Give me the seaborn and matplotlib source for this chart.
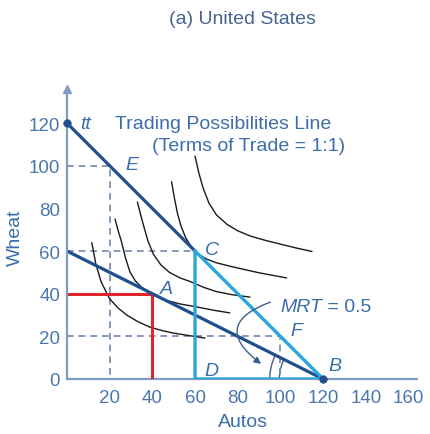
import matplotlib
matplotlib.use("Agg")
import matplotlib.pyplot as plt
from matplotlib.patches import Arc
import seaborn as sns
import pandas as pd

# ---------------- data ----------------
x_ticks = [20, 40, 60, 80, 100, 120, 140, 160]
y_ticks = [0, 20, 40, 60, 80, 100, 120]

# trading possibilities line (tt) from (0,120) to C
tt_x = [0, 60]
tt_y = [120, 60]
# production possibilities frontier (MRT = 0.5)
ppf_x = [0, 120]
ppf_y = [60, 0]
# trade triangle C-D-B
tri_x = [60, 60, 120, 60]
tri_y = [60, 0, 0, 60]
# autarky point A guides
red_x = [0, 40, 40]
red_y = [40, 40, 0]
# dashed guides
e_guide_x = [0, 20, 20]
e_guide_y = [100, 100, 0]
c_guide_x = [0, 60]
c_guide_y = [60, 60]
f_guide_x = [0, 100, 100]
f_guide_y = [20, 20, 0]
# endpoint dots
dot_x = [0, 120]
dot_y = [120, 0]

# indifference curves
ic1_x = [11.6, 13.5, 16.0, 20.0, 24.0, 28.0, 33.0, 38.9, 45.0, 50.0, 57.6, 64.6]
ic1_y = [64.0, 54.0, 45.5, 37.6, 33.2, 30.0, 27.0, 24.3, 22.6, 21.5, 20.3, 19.2]
ic2_x = [22.5, 24.0, 25.5, 27.5, 29.5, 32.0, 35.0, 40.0, 46.0, 53.0, 62.3, 69.0, 76.3]
ic2_y = [75.0, 69.5, 64.5, 56.5, 50.2, 46.0, 43.0, 39.6, 37.0, 35.2, 33.5, 32.2, 31.0]
ic3_x = [33.0, 34.5, 36.0, 38.0, 40.5, 44.0, 48.0, 53.0, 58.0, 64.0, 70.0, 77.0, 85.7]
ic3_y = [83.0, 77.0, 71.5, 64.5, 58.5, 53.5, 50.0, 47.4, 45.6, 43.0, 41.0, 39.6, 38.4]
ic4_x = [49.0, 50.3, 51.8, 53.5, 55.5, 58.0, 61.0, 65.0, 70.0, 78.0, 90.0, 102.9]
ic4_y = [92.5, 85.0, 77.5, 71.5, 66.5, 62.3, 59.0, 56.4, 54.5, 52.5, 49.8, 47.4]
ic5_x = [60.0, 61.8, 63.8, 66.5, 70.0, 75.0, 80.0, 86.0, 93.0, 101.0, 108.0, 114.8]
ic5_y = [104.5, 96.5, 89.5, 82.5, 77.0, 72.5, 69.5, 67.0, 65.0, 63.0, 61.3, 59.8]

# ---------------- style ----------------
sns.set_theme(style="white")
plt.rcParams["font.family"] = ["Liberation Sans", "DejaVu Sans"]

DARK = "#1f4f8f"
LIGHT = "#2aa6de"
RED = "#e0262c"
DASH = "#6f87aa"
AXIS = "#7f9cc4"
TXT = "#3c6dab"
TICKTXT = "#4a77ad"

fig = plt.figure(figsize=(4.31, 4.35), dpi=100)
ax = fig.add_axes([67 / 431, (435 - 380) / 435, 350 / 431, 290 / 435])
ax.set_xlim(0, 164)
ax.set_ylim(0, 136)

def line(x, y, **kw):
    sns.lineplot(x=x, y=y, sort=False, estimator=None, ax=ax, legend=False, **kw)

# dashed guides
for gx, gy in [(e_guide_x, e_guide_y), (c_guide_x, c_guide_y), (f_guide_x, f_guide_y)]:
    line(gx, gy, color=DASH, lw=1.2, linestyle=(0, (4, 3)))

# indifference curves
for cx, cy in [(ic1_x, ic1_y), (ic2_x, ic2_y), (ic3_x, ic3_y), (ic4_x, ic4_y), (ic5_x, ic5_y)]:
    line(cx, cy, color="#1a1a1a", lw=1.0)

# red autarky guides
line(red_x, red_y, color=RED, lw=2.2)
# ppf and trading line
line(ppf_x, ppf_y, color=DARK, lw=2.3)
line(tt_x, tt_y, color=DARK, lw=2.3)
# trade triangle
line(tri_x, tri_y, color=LIGHT, lw=2.4)

# angle arcs at B
for r in (25.0, 20.5):
    ax.add_patch(Arc((120, 0), 2 * r, 2 * r, theta1=153.4, theta2=180,
                     color="#3d5f8f", lw=1.0))

sns.scatterplot(x=dot_x, y=dot_y, color=DARK, s=30, ax=ax, zorder=6,
                edgecolor=DARK, clip_on=False, legend=False)

# axes styling
for s in ("top", "right"):
    ax.spines[s].set_visible(False)
for s in ("left", "bottom"):
    ax.spines[s].set_color(AXIS)
    ax.spines[s].set_linewidth(1.6)
ax.spines["bottom"].set_zorder(1)
ax.plot([0], [136], marker="^", color=AXIS, markersize=6, clip_on=False)

ax.set_xticks(x_ticks)
ax.set_yticks(y_ticks)
ax.set_xticklabels([str(v) for v in x_ticks])
ax.set_yticklabels([str(v) for v in y_ticks])
ax.tick_params(axis="both", direction="in", length=5, width=1.2, color=AXIS,
               labelcolor=TICKTXT, labelsize=13.5)
ax.tick_params(axis="x", pad=7)
ax.tick_params(axis="y", pad=5)
ax.set_xlabel("")
ax.set_ylabel("")

# labels
fs = 14
ax.text(-0.146, 0.49, "Wheat", transform=ax.transAxes, rotation=90,
        ha="center", va="center", color=TXT, fontsize=fs)
ax.text(0.503, -0.148, "Autos", transform=ax.transAxes,
        ha="center", va="center", color=TXT, fontsize=fs)
fig.text(242 / 431, 1 - 20 / 435, "(a) United States", ha="center", va="center",
         color="#48648f", fontsize=fs)

ax.text(6, 120, "tt", style="italic", color=TXT, fontsize=fs, va="center", ha="left")
ax.text(22.5, 120, "Trading Possibilities Line", color=TXT, fontsize=fs,
        va="center", ha="left")
ax.text(39.8, 109.5, "(Terms of Trade = 1:1)", color=TXT, fontsize=fs,
        va="center", ha="left")

pts = {"E": (27.5, 100.5), "C": (64.5, 60.8), "A": (43.5, 42.5),
       "D": (64.5, 3.8), "F": (104.5, 22.7), "B": (122.5, 6.5)}
for k, (px, py) in pts.items():
    ax.text(px, py, k, style="italic", color=TXT, fontsize=fs, va="center", ha="left")

t1 = ax.text(100, 34, "MRT", style="italic", color=TXT, fontsize=fs, va="center", ha="left")
ax.annotate(" = 0.5", xy=(1, 0.5), xycoords=t1, va="center", ha="left",
            color=TXT, fontsize=fs)

ax.annotate("", xy=(92, 6.3), xytext=(96.5, 36.5),
            arrowprops=dict(arrowstyle="-|>", color="#3d5f8f", lw=1.0,
                            connectionstyle="arc3,rad=0.95", mutation_scale=10))

fig.savefig("out.png", dpi=100)
